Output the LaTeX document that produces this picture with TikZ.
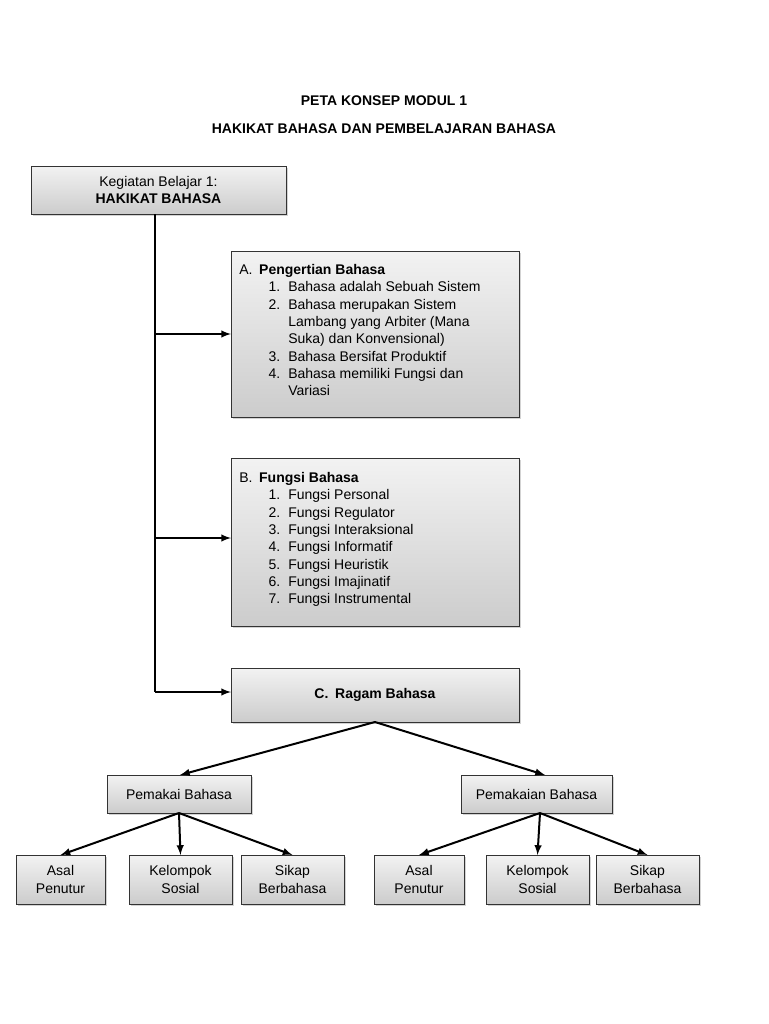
\documentclass[tikz,border=0pt]{standalone}
\usepackage{fontspec}
\setmainfont{Liberation Sans}
\usetikzlibrary{shadows}
\begin{document}
\fontsize{10.5}{13}\selectfont
\begin{tikzpicture}[x=0.75pt,y=-0.75pt,
 box/.style={draw=black!80,line width=0.6pt,top color=white!95!black,bottom color=black!20,drop shadow={shadow xshift=1.5pt,shadow yshift=-1.5pt,opacity=0.35}},
 arr/.style={line width=1.5pt,-latex},
 lst/.style={anchor=north west,inner sep=0pt,align=left}]
\useasboundingbox (0,0) rectangle (768,1024);
\node[font=\bfseries] (t1) at (384,101) {PETA KONSEP MODUL 1};
\node[font=\bfseries] (t2) at (384,129) {HAKIKAT BAHASA DAN PEMBELAJARAN BAHASA};
\newcommand{\lbox}[5]{\path[box] (#1,#2) rectangle (#3,#4); \coordinate (#5) at (#1,{(#2+#4)/2});}
\path[box] (31,166) rectangle (286,214);
\node[align=center,font=\fontsize{10.5}{13}\selectfont] (keg) at (158.5,190) {Kegiatan Belajar 1:\\\textbf{HAKIKAT BAHASA}};
\coordinate (kb) at (155,214);
\path[box] (231,251) rectangle (519,417); \coordinate (A) at (231,334);
\path[box] (231,458) rectangle (519,626); \coordinate (B) at (231,538);
\path[box] (231,668) rectangle (519,722); \coordinate (C) at (231,692);
\node[lst] (Atext) at (239,262) {\begin{tabular}{@{\hspace{22pt}}r@{\hspace{6pt}}l@{}}
\multicolumn{2}{@{}l}{A.\hspace{5pt}\textbf{Pengertian Bahasa}}\\
1.& Bahasa adalah Sebuah Sistem\\
2.& Bahasa merupakan Sistem\\
 & Lambang yang Arbiter (Mana\\
 & Suka) dan Konvensional)\\
3.& Bahasa Bersifat Produktif\\
4.& Bahasa memiliki Fungsi dan\\
 & Variasi\end{tabular}};
\node[lst] (Btext) at (239,470) {\begin{tabular}{@{\hspace{22pt}}r@{\hspace{6pt}}l@{}}
\multicolumn{2}{@{}l}{B.\hspace{5pt}\textbf{Fungsi Bahasa}}\\
1.& Fungsi Personal\\
2.& Fungsi Regulator\\
3.& Fungsi Interaksional\\
4.& Fungsi Informatif\\
5.& Fungsi Heuristik\\
6.& Fungsi Imajinatif\\
7.& Fungsi Instrumental\end{tabular}};
\node[font=\bfseries] (Ct) at (375,695) {C.\hspace{5pt}Ragam Bahasa};
\coordinate (Cb) at (375,722);
\coordinate (v) at (155,692);
\draw[line width=1.5pt] (kb) -- (v);
\draw[arr] (155,334) -- (A);
\draw[arr] (155,538) -- (B);
\draw[arr] (v) -- (C);
% level 2
\path[box] (107,775) rectangle (251,813);
\node (pb) at (179,794) {Pemakai Bahasa};
\path[box] (461,775) rectangle (612,813);
\node (pnb) at (536.5,794) {Pemakaian Bahasa};
\draw[arr] (Cb) -- (180,775);
\draw[arr] (Cb) -- (545,775);
% leaves
\foreach \a/\b/\t [count=\i] in {16/105/{Asal\\Penutur},129/232/{Kelompok\\Sosial},241/344/{Sikap\\Berbahasa},374/464/{Asal\\Penutur},486/589/{Kelompok\\Sosial},596/699/{Sikap\\Berbahasa}}{
 \path[box] (\a,855) rectangle (\b,904);
 \node[align=center] (leaf\i) at ({(\a+\b)/2},879.5) {\t};
 \coordinate (lt\i) at ({(\a+\b)/2},855);
}
\coordinate (pbb) at (179,813);
\coordinate (pnbb) at (540,813);
\foreach \i in {1,2,3} \draw[arr] (pbb) -- (lt\i);
\foreach \i in {4,5,6} \draw[arr] (pnbb) -- (lt\i);
\end{tikzpicture}
\end{document}
